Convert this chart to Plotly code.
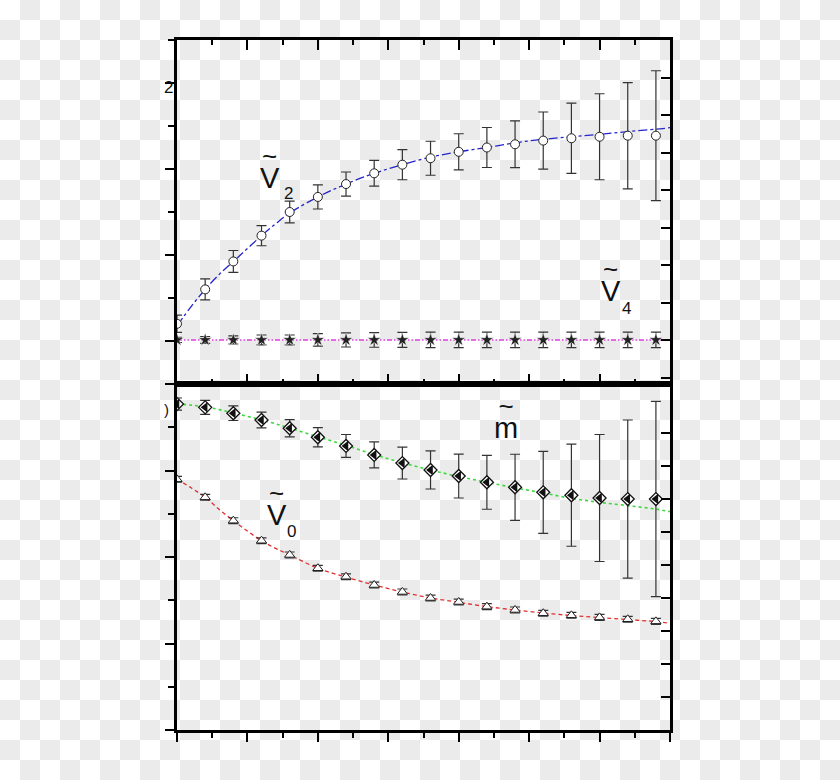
import base64
import plotly.graph_objects as go

# ── Colours ──────────────────────────────────────────────────────────────────
AXIS    = "#000000"
ERR     = "#333333"
BLUE    = "#2424c8"
MAGENTA = "#e040e0"
GREEN   = "#3cd83c"
RED     = "#e03030"
CHECK   = "#ebebeb"

# ── Data ─────────────────────────────────────────────────────────────────────
x_pts = [0, 2, 4, 6, 8, 10, 12, 14, 16, 18, 20, 22, 24, 26, 28, 30, 32, 34]

v2     = [0.08, 0.24, 0.37, 0.49, 0.60, 0.67, 0.73, 0.78, 0.82, 0.85, 0.88,
          0.90, 0.915, 0.932, 0.943, 0.950, 0.955, 0.955]
v2_err = [0.04, 0.049, 0.051, 0.047, 0.051, 0.056, 0.056, 0.06, 0.07, 0.079,
          0.084, 0.093, 0.109, 0.133, 0.163, 0.20, 0.247, 0.302]

v4     = [0.005] * 18
v4_err = [0.012, 0.016, 0.019, 0.023, 0.023, 0.029, 0.033, 0.034, 0.035, 0.036,
          0.036, 0.036, 0.036, 0.036, 0.036, 0.036, 0.036, 0.036]

m      = [1.884, 1.865, 1.831, 1.792, 1.744, 1.692, 1.642, 1.59, 1.543, 1.503,
          1.468, 1.432, 1.403, 1.374, 1.357, 1.341, 1.335, 1.335]
m_err  = [0.035, 0.040, 0.042, 0.046, 0.05, 0.056, 0.066, 0.075, 0.092, 0.11,
          0.127, 0.156, 0.191, 0.237, 0.295, 0.367, 0.457, 0.564]

v0     = [1.449, 1.345, 1.21, 1.094, 1.012, 0.935, 0.886, 0.838, 0.798, 0.763,
          0.74, 0.713, 0.694, 0.675, 0.663, 0.651, 0.64, 0.628]
v0_err = [0.017] * 18

# fitted curves
x_fit  = [0, 1, 2, 3, 4, 5, 6, 7, 8, 10, 12, 14, 16, 18, 20, 22, 24, 26, 28,
          30, 32, 34, 35]
v2_fit = [0.07, 0.16, 0.24, 0.31, 0.37, 0.43, 0.49, 0.545, 0.595, 0.67, 0.73,
          0.78, 0.82, 0.855, 0.88, 0.90, 0.922, 0.938, 0.95, 0.961, 0.974,
          0.985, 0.992]
v4_fit = [0.005] * 23
m_fit  = [1.885, 1.878, 1.868, 1.852, 1.833, 1.813, 1.793, 1.77, 1.745, 1.695,
          1.645, 1.592, 1.545, 1.503, 1.465, 1.432, 1.40, 1.37, 1.339, 1.316,
          1.297, 1.277, 1.262]
v0_fit = [1.45, 1.40, 1.345, 1.275, 1.21, 1.15, 1.094, 1.05, 1.012, 0.935,
          0.884, 0.838, 0.798, 0.763, 0.738, 0.713, 0.694, 0.676, 0.662, 0.65,
          0.638, 0.627, 0.617]

# ── Geometry ─────────────────────────────────────────────────────────────────
W, H = 840, 780
ML, MR, MT, MB = 177, 170, 40, 50
PW, PH = W - ML - MR, H - MT - MB
SPLIT = (730 - 384) / PH     # bottom panel height fraction


def err(vals):
    return dict(type="data", array=vals, visible=True, color=ERR,
                thickness=1.2, width=5)


fig = go.Figure()

# top panel: V2 and V4
fig.add_trace(go.Scatter(x=x_fit, y=v2_fit, mode="lines", xaxis="x2", yaxis="y",
                         line=dict(color=BLUE, width=1.3, dash="dashdot", shape="spline"),
                         hoverinfo="skip"))
fig.add_trace(go.Scatter(x=x_fit, y=v4_fit, mode="lines", xaxis="x2", yaxis="y",
                         line=dict(color=MAGENTA, width=1.5,
                                   dash="5px,2px,1.5px,2px,1.5px,2px"),
                         hoverinfo="skip"))
fig.add_trace(go.Scatter(x=x_pts, y=v2, mode="markers", xaxis="x2", yaxis="y",
                         error_y=err(v2_err),
                         marker=dict(symbol="circle", size=9, color="white",
                                     line=dict(color="#222", width=1))))
fig.add_trace(go.Scatter(x=x_pts, y=v4, mode="markers", xaxis="x2", yaxis="y",
                         error_y=err(v4_err),
                         marker=dict(symbol="star", size=10, color="#222",
                                     line=dict(color="white", width=0.5))))

# bottom panel: m (half-filled diamonds) and V0
fig.add_trace(go.Scatter(x=x_fit, y=m_fit, mode="lines", xaxis="x", yaxis="y2",
                         line=dict(color=GREEN, width=1.6, dash="dot", shape="spline"),
                         hoverinfo="skip"))
fig.add_trace(go.Scatter(x=x_fit, y=v0_fit, mode="lines", xaxis="x", yaxis="y2",
                         line=dict(color=RED, width=1.3, dash="4px,3px", shape="spline"),
                         hoverinfo="skip"))
fig.add_trace(go.Scatter(x=x_pts, y=m, mode="markers", xaxis="x", yaxis="y2",
                         error_y=err(m_err),
                         marker=dict(symbol="diamond", size=10, color="white",
                                     line=dict(color="#111", width=1.3))))
fig.add_trace(go.Scatter(x=x_pts, y=m, mode="markers", xaxis="x", yaxis="y2",
                         marker=dict(symbol="triangle-left", size=9, color="#111",
                                     line=dict(width=0)), hoverinfo="skip"))
fig.add_trace(go.Scatter(x=x_pts, y=v0, mode="markers", xaxis="x", yaxis="y2",
                         error_y=err(v0_err),
                         marker=dict(symbol="triangle-up", size=9, color="white",
                                     line=dict(color="#222", width=1))))

# ── Axes ─────────────────────────────────────────────────────────────────────
X_RANGE = [0, 35]
Y_TOP   = [-0.2, 1.4]
Y_BOT   = [0, 2]

axis_common = dict(showline=True, linecolor=AXIS, linewidth=2.5, showgrid=False,
                   zeroline=False, showticklabels=False, tickcolor=AXIS, tickwidth=2)

fig.update_layout(
    width=W, height=H,
    margin=dict(l=ML, r=MR, t=MT, b=MB, pad=0),
    paper_bgcolor="white",
    plot_bgcolor="rgba(0,0,0,0)",
    showlegend=False,
    font=dict(family="Liberation Sans, Arial, sans-serif", color="#111"),
    xaxis=dict(**axis_common, range=X_RANGE, anchor="y2", domain=[0, 1],
               ticks="outside", ticklen=9, dtick=5, tick0=0, mirror=True,
               minor=dict(dtick=2.5, tick0=0, ticks="outside", ticklen=5,
                          tickcolor=AXIS, tickwidth=2)),
    xaxis2=dict(**axis_common, range=X_RANGE, anchor="y", domain=[0, 1],
                ticks="inside", ticklen=10, dtick=5, tick0=0, mirror="ticks",
                minor=dict(dtick=2.5, tick0=0, ticks="inside", ticklen=5,
                           tickcolor=AXIS, tickwidth=2)),
    yaxis=dict(**axis_common, range=Y_TOP, anchor="x2", domain=[SPLIT, 1],
               ticks="outside", ticklen=9, dtick=0.4, tick0=0,
               minor=dict(dtick=0.2, tick0=0, ticks="outside", ticklen=6,
                          tickcolor=AXIS, tickwidth=2)),
    yaxis2=dict(**axis_common, range=Y_BOT, anchor="x", domain=[0, SPLIT],
                ticks="outside", ticklen=9, dtick=0.5, tick0=0,
                minor=dict(dtick=0.25, tick0=0, ticks="outside", ticklen=6,
                           tickcolor=AXIS, tickwidth=2)),
    # right-hand axes carry their own, finer tick spacing
    yaxis3=dict(**axis_common, overlaying="y", side="right", anchor="x2",
                range=[-1.1733, 8.0], tickvals=[-1, 0, 1, 2, 3, 4, 5, 6, 7],
                ticks="inside", ticklen=9),
    yaxis4=dict(**axis_common, overlaying="y2", side="right", anchor="x",
                range=[0, 10.485], tickvals=[1, 2, 3, 4, 5, 6, 7, 8, 9],
                ticks="inside", ticklen=9),
)

# invisible traces so the right-hand axes are drawn
fig.add_trace(go.Scatter(x=[0], y=[0], xaxis="x2", yaxis="y3", mode="markers",
                         marker=dict(opacity=0), hoverinfo="skip"))
fig.add_trace(go.Scatter(x=[0], y=[0], xaxis="x", yaxis="y4", mode="markers",
                         marker=dict(opacity=0), hoverinfo="skip"))


# ── Labels ───────────────────────────────────────────────────────────────────
def px_x(px):
    return (px - ML) / PW


def px_y(py):
    return (H - MB - py) / PH


def note(text, cx, cy, size):
    fig.add_annotation(text=text, x=px_x(cx), y=px_y(cy), xref="paper", yref="paper",
                       xanchor="center", yanchor="middle", showarrow=False,
                       font=dict(size=size, color="#111"))


def label(letter, sub, cx, cy, sx=0, sy=0):
    # tilde stacked over the letter in one text block (tight line spacing)
    text = ("<span style='font-size:26px'>~</span><br>"
            f"<span style='font-size:29px'>{letter}</span>")
    note(text, cx, cy, 18)
    if sub:
        note(sub, sx, sy, 17)


label("V", "2", 270, 167, 288, 193)
label("V", "4", 611, 280, 626, 308)
label("V", "0", 277, 504, 291, 531)
label("m", None, 506, 418)

# clipped fragments of tick labels at the left edge
note("2", 168, 87, 17)
note(")", 166, 409, 15)

# ── Checkerboard background ──────────────────────────────────────────────────
svg = (f'<svg xmlns="http://www.w3.org/2000/svg" width="{W}" height="{H}">'
       '<defs><pattern id="c" width="40" height="40" patternUnits="userSpaceOnUse">'
       '<rect width="40" height="40" fill="#ffffff"/>'
       f'<rect x="20" y="0" width="20" height="20" fill="{CHECK}"/>'
       f'<rect x="0" y="20" width="20" height="20" fill="{CHECK}"/>'
       '</pattern></defs>'
       f'<rect width="{W}" height="{H}" fill="url(#c)"/></svg>')
uri = "data:image/svg+xml;base64," + base64.b64encode(svg.encode()).decode()
fig.add_layout_image(source=uri, xref="paper", yref="paper",
                     x=-ML / PW, y=(H - MB) / PH, sizex=W / PW, sizey=H / PH,
                     xanchor="left", yanchor="top", sizing="stretch", layer="below")

fig.write_html("out.html", config={"displayModeBar": False},
               post_script="document.body.style.margin='0';")
